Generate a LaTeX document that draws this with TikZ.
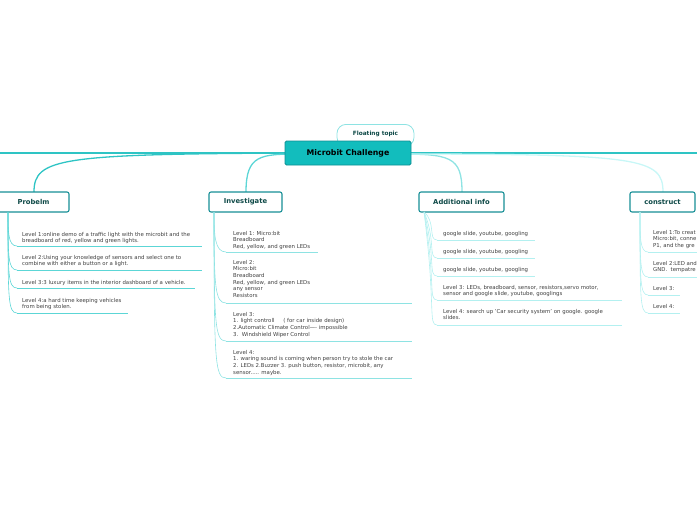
\documentclass[tikz,border=0pt]{standalone}
\usepackage{fontspec}
\setmainfont{DejaVu Sans}
\definecolor{mainf}{HTML}{12BDBD}
\definecolor{maind}{HTML}{0E8F93}
\definecolor{trunk}{HTML}{2EC4C4}
\definecolor{lnA}{HTML}{5CD6D6}
\definecolor{lnB}{HTML}{8EE3E3}
\definecolor{lnC}{HTML}{B3F0F0}
\definecolor{lnD}{HTML}{C8F7F7}
\definecolor{brd}{HTML}{178F96}
\definecolor{brt}{HTML}{0F4A48}
\begin{document}
\begin{tikzpicture}[x=1pt,y=-1pt,
  txt/.style={anchor=north west,inner sep=0pt,align=left,font=\fontsize{5.4}{6.6}\selectfont,text=black!75},
  br/.style={draw=brd,line width=1.1pt,rounded corners=2pt,fill=white,minimum height=20pt,font=\bfseries\fontsize{6.8}{7}\selectfont,text=brt},
  c1/.style={draw=lnA,line width=0.9pt},
  c2/.style={draw=lnB,line width=0.8pt},
  c3/.style={draw=lnC,line width=0.8pt}]
\useasboundingbox (0,0) rectangle (697,520);
\clip (0,0) rectangle (697,520);
% main lines
\draw[line width=1.6pt,draw=trunk] (0,153) -- (697,153);
\draw[line width=1.3pt,draw=trunk] (300,153) .. controls (60,154) and (34,158) .. (34,192);
\draw[line width=1.3pt,draw=lnA] (300,154) .. controls (260,154) and (246,155) .. (246,192);
\draw[line width=1.3pt,draw=lnB] (395,154) .. controls (450,154) and (462,156) .. (462,192);
\draw[line width=1.3pt,draw=lnD] (395,154) .. controls (640,154) and (663,158) .. (663,192);
\node[draw=lnB,line width=0.8pt,rounded corners=9pt,fill=white,minimum width=77pt,minimum height=22pt,font=\bfseries\fontsize{5.8}{6}\selectfont,text=brt,anchor=north,inner sep=0pt] (ft) at (375.5,124) {\raisebox{4pt}{Floating topic}};
\node[draw=maind,line width=0.8pt,fill=mainf,rounded corners=1.5pt,minimum width=126pt,minimum height=24pt,font=\bfseries\fontsize{7.8}{8}\selectfont,text=black] (mc) at (348,153) {Microbit Challenge};
% branches
\node[br,minimum width=71pt] (pb) at (33.5,202) {Probelm};
\node[br,minimum width=73pt] (iv) at (245.5,202) {Investigate};
\node[br,minimum width=85pt] (ai) at (461.5,202) {Additional info};
\node[br,minimum width=65pt] (cs) at (662.5,202) {construct};
% Problem
\coordinate (pt) at (8,212);
\node[txt] (p1) at (22,232) {Level 1:online demo of a traffic light with the microbit and the\\breadboard of red, yellow and green lights.};
\node[txt] (p2) at (22,255) {Level 2:Using your knowledge of sensors and select one to\\combine with either a button or a light.};
\node[txt] (p3) at (22,280) {Level 3:3 luxury items in the interior dashboard of a vehicle.};
\node[txt] (p4) at (22,298) {Level 4:a hard time keeping vehicles\\from being stolen.};
\foreach \y/\e in {246/202,270/202,288/195,313/128}{
  \draw[c1] (17,\y) -- (\e,\y);
  \draw[c1,line width=0.6pt] (pt) .. controls (8,\y-14) and (8,\y) .. (17,\y);}
% Investigate
\coordinate (it) at (214,212);
\node[txt] (i1) at (233,231) {Level 1: Micro:bit\\Breadboard\\Red, yellow, and green LEDs};
\node[txt] (i2) at (233,260) {Level 2:\\Micro:bit\\Breadboard\\Red, yellow, and green LEDs\\any sensor\\Resistors};
\node[txt] (i3) at (233,312) {Level 3:\\1. light controll\quad\ \ ( for car inside design)\\2.Automatic Climate Control---- impossible\\3.\ \ Windshield Wiper Control};
\node[txt] (i4) at (233,350) {Level 4:\\1. waring sound is coming when person try to stole the car\\2. LEDs 2.Buzzer 3. push button, resistor, microbit, any\\sensor..... maybe.};
\foreach \y/\e in {252/318,303/412,341/412,378/412}{
  \draw[c2] (226,\y) -- (\e,\y);
  \draw[c2,line width=0.6pt] (it) .. controls (214,\y-16) and (215,\y) .. (226,\y);}
% Additional info
\coordinate (at) at (424,212);
\node[txt] (a1) at (443,231) {google slide, youtube, googling};
\node[txt] (a2) at (443,249) {google slide, youtube, googling};
\node[txt] (a3) at (443,267) {google slide, youtube, googling};
\node[txt] (a4) at (443,285) {Level 3: LEDs, breadboard, sensor, resistors,servo motor,\\sensor and google slide, youtube, googlings};
\node[txt] (a5) at (443,309) {Level 4: search up 'Car security system' on google. google\\slides.};
\foreach \y/\e in {240/535,258/535,276/535,300/622,325/622}{
  \draw[c3] (437,\y) -- (\e,\y);
  \draw[c3,line width=0.6pt] (at) .. controls (436,\y-18) and (428,\y) .. (437,\y);}
% construct
\coordinate (ct) at (640,212);
\node[txt] (k1) at (653,230) {Level 1:To creat\\Micro:bit, conne\\P1, and the gre};
\node[txt] (k2) at (653,261) {Level 2:LED and\\GND.\ \ tempatre};
\node[txt] (k3) at (653,286) {Level 3:};
\node[txt] (k4) at (653,304) {Level 4:};
\foreach \y/\e in {252/697,277/697,295/680,313/680}{
  \draw[c3] (648,\y) -- (\e,\y);
  \draw[c3,line width=0.6pt] (ct) .. controls (640,\y-14) and (640,\y) .. (648,\y);}
\end{tikzpicture}
\end{document}
